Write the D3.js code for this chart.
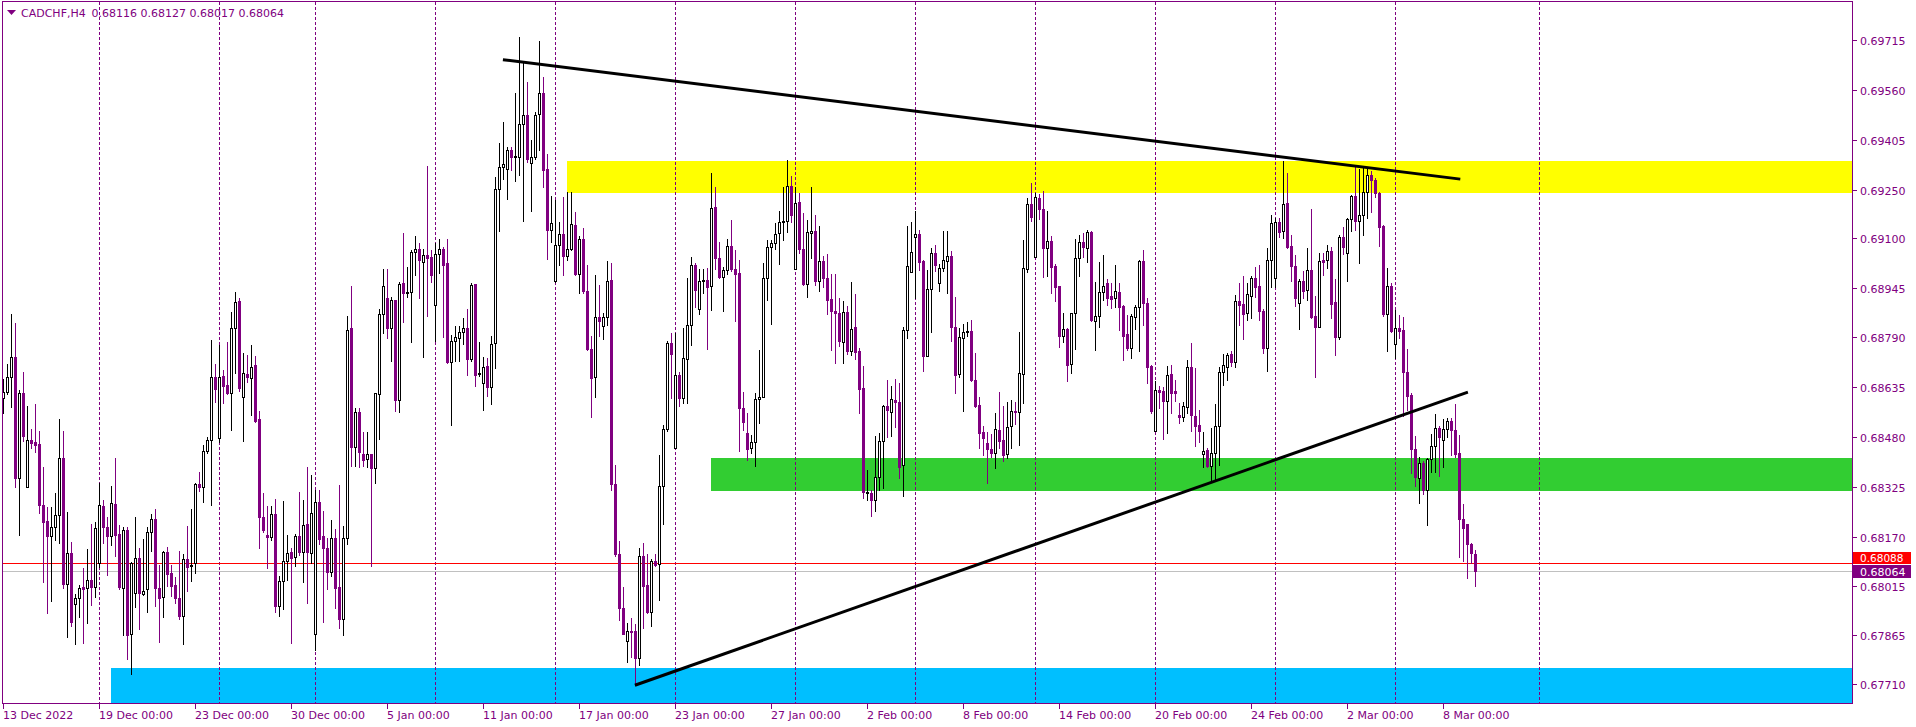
<!DOCTYPE html>
<html><head><meta charset="utf-8">
<script src="https://cdn.jsdelivr.net/npm/d3@7"></script>
<style>html,body{margin:0;padding:0;background:#fff;overflow:hidden}</style>
</head><body>
<svg id="c" width="1916" height="727" xmlns="http://www.w3.org/2000/svg"></svg>
<script>
// ---------------- DATA ----------------
const symbol = "CADCHF,H4";

const open = [
0.68601,0.68621,0.68668,0.68728,0.68353,0.68616,0.68325,0.68472,0.68463,0.68458,0.68268,0.68218,
0.68173,0.68199,0.68236,0.68414,0.68021,0.68118,0.67960,0.67978,0.68012,0.68009,0.68035,0.68012,
0.68089,0.68265,0.68199,0.68173,0.68271,0.68178,0.68009,0.68191,0.67866,0.67993,0.68102,0.67991,
0.68006,0.68183,0.68224,0.68009,0.67983,0.68121,0.68056,0.68019,0.67978,0.67924,0.68099,0.68077,
0.68089,0.68333,0.68323,0.68438,0.68472,0.68666,0.68476,0.68670,0.68641,0.68618,0.68818,0.68904,
0.68606,0.68675,0.68663,0.68703,0.68535,0.68231,0.68175,0.68169,0.68241,0.67955,0.68032,0.68095,
0.68123,0.68107,0.68172,0.68123,0.68210,0.68120,0.67866,0.68278,0.68172,0.68135,0.68061,0.68166,
0.68013,0.67912,0.68166,0.68819,0.68448,0.68558,0.68427,0.68411,0.68427,0.68384,0.68614,0.68862,
0.68914,0.68819,0.68906,0.68595,0.68959,0.68928,0.68933,0.69057,0.69067,0.69026,0.69048,0.69040,
0.68890,0.69051,0.69067,0.69021,0.68713,0.68778,0.68788,0.68806,0.68819,0.68723,0.68955,0.68676,
0.68648,0.68701,0.68635,0.68772,0.69251,0.69320,0.69316,0.69373,0.69352,0.69352,0.69456,0.69484,
0.69332,0.69353,0.69487,0.69552,0.69314,0.69126,0.68965,0.69078,0.69111,0.69044,0.69067,0.69139,
0.68989,0.69096,0.68936,0.68753,0.68668,0.68855,0.68825,0.68854,0.68969,0.68333,0.68115,0.67949,
0.67845,0.67877,0.67875,0.67793,0.68108,0.68019,0.67934,0.68095,0.68084,0.68327,0.68504,0.68772,
0.68445,0.68674,0.68600,0.68724,0.68829,0.69015,0.68880,0.68965,0.68969,0.68949,0.69196,0.69038,
0.68978,0.68999,0.69076,0.69002,0.68990,0.68570,0.68492,0.68445,0.68466,0.68598,0.68606,0.68974,
0.69073,0.69085,0.69114,0.69149,0.69154,0.69262,0.69002,0.69213,0.69066,0.68956,0.69114,0.69120,
0.68966,0.69028,0.68974,0.68910,0.68871,0.68867,0.68777,0.68868,0.68749,0.68822,0.68748,0.68633,
0.68305,0.68307,0.68284,0.68354,0.68469,0.68577,0.68559,0.68596,0.68590,0.68393,0.68813,0.68995,
0.69104,0.69111,0.69028,0.68731,0.68940,0.69052,0.68959,0.69005,0.69029,0.69044,0.68824,0.68675,
0.68788,0.68806,0.68810,0.68658,0.68580,0.68497,0.68460,0.68442,0.68431,0.68502,0.68471,0.68426,
0.68515,0.68562,0.68559,0.68676,0.69002,0.69206,0.69042,0.69223,0.69189,0.69070,0.69090,0.69013,
0.68950,0.68796,0.68815,0.68706,0.68865,0.69038,0.69086,0.69070,0.69117,0.68842,0.68858,0.68933,
0.68959,0.68919,0.68912,0.68931,0.68888,0.68801,0.68758,0.68853,0.68884,0.69028,0.68898,0.68701,
0.68500,0.68627,0.68623,0.68593,0.68675,0.68623,0.68549,0.68541,0.68575,0.68697,0.68546,0.68518,
0.68426,0.68440,0.68391,0.68429,0.68514,0.68682,0.68699,0.68739,0.68715,0.68904,0.68894,0.68865,
0.68919,0.68976,0.68950,0.68873,0.68756,0.69031,0.68974,0.69149,0.69120,0.69210,0.69075,0.69013,
0.68897,0.68966,0.68938,0.69000,0.68857,0.68824,0.69031,0.69031,0.69059,0.68900,0.68790,0.69104,
0.69052,0.69158,0.69231,0.69154,0.69170,0.69242,0.69296,0.69281,0.69241,0.69137,0.68863,0.68950,
0.68769,0.68819,0.68813,0.68681,0.68611,0.68442,0.68352,0.68398,0.68315,0.68411,0.68453,0.68507,
0.68471,0.68504,0.68530,0.68502,0.68430,0.68224,0.68208,0.68146,0.68116];

const high = [
0.68661,0.68707,0.68863,0.68836,0.68626,0.68682,0.68577,0.68505,0.68583,0.68499,0.68388,0.68261,
0.68261,0.68305,0.68535,0.68499,0.68246,0.68152,0.67991,0.68019,0.68071,0.68130,0.68209,0.68214,
0.68338,0.68284,0.68232,0.68328,0.68415,0.68206,0.68199,0.68199,0.68092,0.68230,0.68133,0.68162,
0.68199,0.68239,0.68255,0.68082,0.68126,0.68139,0.68082,0.68045,0.68126,0.68116,0.68203,0.68255,
0.68336,0.68371,0.68455,0.68481,0.68782,0.68707,0.68767,0.68689,0.68777,0.68868,0.68931,0.68912,
0.68741,0.68736,0.68766,0.68732,0.68561,0.68307,0.68266,0.68266,0.68288,0.68048,0.68281,0.68176,
0.68133,0.68179,0.68309,0.68284,0.68386,0.68363,0.68315,0.68315,0.68250,0.68164,0.68222,0.68195,
0.68332,0.68204,0.68858,0.68949,0.68570,0.68570,0.68496,0.68496,0.68427,0.68617,0.68878,0.69003,
0.69003,0.68916,0.68908,0.68962,0.69114,0.69009,0.69061,0.69107,0.69083,0.69067,0.69324,0.69061,
0.69083,0.69098,0.69073,0.69098,0.68797,0.68825,0.68825,0.68850,0.68878,0.68959,0.68958,0.68775,
0.68729,0.68725,0.68796,0.69290,0.69395,0.69460,0.69382,0.69384,0.69552,0.69727,0.69650,0.69585,
0.69404,0.69493,0.69712,0.69601,0.69360,0.69229,0.69218,0.69150,0.69227,0.69244,0.69244,0.69181,
0.69107,0.69130,0.69015,0.68796,0.68985,0.68953,0.68867,0.69028,0.69021,0.68392,0.68157,0.68012,
0.67901,0.67918,0.67898,0.68133,0.68150,0.68115,0.68101,0.68115,0.68425,0.68517,0.68779,0.68805,
0.68805,0.68681,0.68818,0.68976,0.69041,0.69021,0.69002,0.69002,0.69006,0.69303,0.69257,0.69087,
0.69008,0.69097,0.69155,0.69061,0.69031,0.68619,0.68554,0.68487,0.68616,0.68751,0.69021,0.69094,
0.69094,0.69146,0.69184,0.69260,0.69343,0.69293,0.69257,0.69239,0.69179,0.69156,0.69260,0.69170,
0.69137,0.69044,0.69050,0.68988,0.68988,0.68912,0.68905,0.68889,0.68963,0.68926,0.68758,0.68701,
0.68378,0.68315,0.68483,0.68494,0.68580,0.68658,0.68639,0.68660,0.68649,0.68822,0.69137,0.69151,
0.69184,0.69125,0.69031,0.69000,0.69068,0.69078,0.69019,0.69122,0.69122,0.69059,0.68915,0.68819,
0.68832,0.68839,0.68845,0.68743,0.68604,0.68515,0.68497,0.68489,0.68554,0.68619,0.68577,0.68588,
0.68595,0.68590,0.68806,0.69094,0.69223,0.69270,0.69239,0.69236,0.69246,0.69184,0.69106,0.69019,
0.68950,0.68865,0.68818,0.68867,0.69096,0.69109,0.69114,0.69125,0.69120,0.68962,0.69024,0.69047,
0.68972,0.68959,0.69016,0.68961,0.68891,0.68860,0.68863,0.68891,0.69031,0.69062,0.68912,0.68704,
0.68655,0.68639,0.68637,0.68701,0.68704,0.68656,0.68587,0.68588,0.68720,0.68774,0.68696,0.68564,
0.68497,0.68445,0.68507,0.68583,0.68699,0.68739,0.68741,0.68748,0.68922,0.68961,0.68982,0.68959,
0.68980,0.69008,0.69016,0.68878,0.69068,0.69172,0.69161,0.69161,0.69341,0.69303,0.69109,0.69047,
0.68971,0.68998,0.69068,0.69190,0.68920,0.69054,0.69054,0.69078,0.69073,0.68972,0.69109,0.69133,
0.69163,0.69234,0.69322,0.69314,0.69317,0.69322,0.69307,0.69286,0.69242,0.69140,0.69005,0.68961,
0.68876,0.68860,0.68855,0.68754,0.68616,0.68483,0.68417,0.68404,0.68414,0.68490,0.68551,0.68515,
0.68535,0.68539,0.68539,0.68583,0.68487,0.68272,0.68208,0.68149,0.68127];

const low = [
0.68556,0.68614,0.68575,0.68325,0.68175,0.68469,0.68323,0.68445,0.68434,0.68242,0.68030,0.67933,
0.67970,0.68159,0.68149,0.68009,0.67858,0.67890,0.67835,0.67921,0.67838,0.67900,0.67957,0.67983,
0.68076,0.68149,0.68050,0.68144,0.68108,0.68006,0.67864,0.67789,0.67741,0.67952,0.67883,0.67988,
0.67936,0.68126,0.67955,0.67843,0.67921,0.68016,0.67985,0.67962,0.67914,0.67835,0.68002,0.68033,
0.68056,0.68313,0.68279,0.68429,0.68268,0.68590,0.68463,0.68585,0.68614,0.68502,0.68680,0.68624,
0.68469,0.68652,0.68549,0.68527,0.68135,0.68185,0.68073,0.68160,0.67936,0.67924,0.67945,0.68036,
0.67840,0.68079,0.68113,0.68030,0.67964,0.68089,0.67818,0.68148,0.67905,0.68008,0.68048,0.67949,
0.67884,0.67862,0.68148,0.68390,0.68390,0.68386,0.68390,0.68386,0.68077,0.68337,0.68473,0.68804,
0.68788,0.68717,0.68560,0.68558,0.68837,0.68916,0.68775,0.68984,0.68912,0.68729,0.68856,0.68962,
0.68779,0.68990,0.68791,0.68709,0.68518,0.68717,0.68717,0.68769,0.68673,0.68717,0.68638,0.68670,
0.68564,0.68607,0.68582,0.68694,0.69120,0.69283,0.69221,0.69310,0.69277,0.69297,0.69152,0.69336,
0.69185,0.69346,0.69375,0.69257,0.69035,0.69087,0.68963,0.69015,0.68986,0.69032,0.69061,0.68986,
0.68930,0.68930,0.68750,0.68543,0.68606,0.68796,0.68786,0.68828,0.68314,0.68111,0.67910,0.67866,
0.67779,0.67796,0.67708,0.67770,0.67884,0.67931,0.67890,0.68078,0.67973,0.68209,0.68500,0.68602,
0.68445,0.68576,0.68586,0.68586,0.68766,0.68884,0.68862,0.68930,0.68753,0.68877,0.69002,0.68976,
0.68871,0.68989,0.68998,0.68841,0.68435,0.68502,0.68409,0.68429,0.68390,0.68523,0.68604,0.68907,
0.68831,0.69065,0.69019,0.69094,0.69117,0.69151,0.69002,0.69054,0.68954,0.68917,0.69037,0.68954,
0.68936,0.68948,0.68862,0.68751,0.68710,0.68762,0.68710,0.68739,0.68736,0.68722,0.68554,0.68289,
0.68284,0.68234,0.68250,0.68315,0.68320,0.68479,0.68484,0.68512,0.68352,0.68295,0.68788,0.68995,
0.68912,0.69000,0.68687,0.68731,0.68808,0.68998,0.68936,0.68998,0.68930,0.68780,0.68618,0.68666,
0.68562,0.68793,0.68653,0.68575,0.68445,0.68424,0.68336,0.68417,0.68385,0.68445,0.68406,0.68414,
0.68445,0.68521,0.68455,0.68585,0.68995,0.69154,0.69042,0.69158,0.68979,0.68981,0.68930,0.68905,
0.68761,0.68777,0.68655,0.68678,0.68753,0.68981,0.69040,0.69026,0.68842,0.68751,0.68822,0.68907,
0.68891,0.68881,0.68884,0.68813,0.68720,0.68751,0.68725,0.68815,0.68749,0.68829,0.68647,0.68554,
0.68500,0.68569,0.68473,0.68494,0.68556,0.68593,0.68523,0.68531,0.68556,0.68500,0.68453,0.68463,
0.68388,0.68388,0.68341,0.68346,0.68393,0.68642,0.68656,0.68701,0.68697,0.68829,0.68785,0.68843,
0.68850,0.68915,0.68843,0.68743,0.68687,0.68948,0.68948,0.69102,0.69101,0.69068,0.68967,0.68889,
0.68817,0.68912,0.68907,0.68850,0.68668,0.68822,0.68985,0.69005,0.68852,0.68734,0.68784,0.69050,
0.68967,0.69123,0.69125,0.69023,0.69109,0.69161,0.69182,0.69227,0.69075,0.68857,0.68749,0.68808,
0.68725,0.68788,0.68544,0.68564,0.68367,0.68326,0.68274,0.68302,0.68206,0.68372,0.68372,0.68360,
0.68386,0.68481,0.68424,0.68419,0.68106,0.68095,0.68040,0.68087,0.68017];

const close = [
0.68621,0.68666,0.68728,0.68353,0.68616,0.68484,0.68472,0.68462,0.68456,0.68268,0.68216,0.68173,
0.68199,0.68236,0.68414,0.68021,0.68118,0.67905,0.67978,0.68009,0.68006,0.68035,0.68012,0.68196,
0.68267,0.68199,0.68172,0.68274,0.68175,0.68014,0.68191,0.67864,0.68087,0.68102,0.67993,0.67999,
0.68183,0.68224,0.68009,0.67980,0.68121,0.68054,0.68017,0.67978,0.67924,0.68099,0.68076,0.68080,
0.68333,0.68325,0.68438,0.68472,0.68666,0.68630,0.68668,0.68639,0.68618,0.68818,0.68899,0.68634,
0.68678,0.68666,0.68698,0.68530,0.68231,0.68191,0.68169,0.68241,0.67955,0.68032,0.68095,0.68120,
0.68102,0.68172,0.68123,0.68207,0.68123,0.68244,0.68278,0.68163,0.68135,0.68061,0.68166,0.68011,
0.67912,0.68166,0.68812,0.68448,0.68558,0.68433,0.68409,0.68427,0.68384,0.68617,0.68862,0.68949,
0.68819,0.68906,0.68595,0.68955,0.68928,0.68933,0.69057,0.69067,0.69030,0.69048,0.69036,0.68986,
0.69051,0.69067,0.69017,0.68713,0.68778,0.68790,0.68806,0.68819,0.68723,0.68953,0.68673,0.68678,
0.68698,0.68636,0.68769,0.69251,0.69320,0.69329,0.69373,0.69352,0.69356,0.69456,0.69484,0.69345,
0.69353,0.69484,0.69552,0.69312,0.69126,0.69145,0.69078,0.69111,0.69044,0.69067,0.69142,0.68989,
0.69096,0.68936,0.68753,0.68665,0.68855,0.68841,0.68854,0.68966,0.68333,0.68115,0.67949,0.67868,
0.67877,0.67873,0.67793,0.68108,0.68016,0.67934,0.68094,0.68082,0.68327,0.68504,0.68772,0.68740,
0.68674,0.68600,0.68727,0.68829,0.69015,0.68939,0.68965,0.68969,0.68947,0.69192,0.69038,0.68978,
0.68999,0.69076,0.69002,0.68989,0.68570,0.68528,0.68442,0.68466,0.68598,0.68606,0.68974,0.69073,
0.69085,0.69111,0.69149,0.69153,0.69262,0.69172,0.69210,0.69065,0.68957,0.69118,0.69120,0.68967,
0.69028,0.68974,0.68907,0.68871,0.68865,0.68779,0.68868,0.68749,0.68817,0.68746,0.68631,0.68310,
0.68309,0.68284,0.68354,0.68468,0.68577,0.68564,0.68598,0.68590,0.68388,0.68813,0.69013,0.69055,
0.69111,0.69026,0.68731,0.68940,0.69052,0.69016,0.69005,0.69031,0.69044,0.68824,0.68673,0.68791,
0.68806,0.68810,0.68656,0.68578,0.68494,0.68476,0.68442,0.68431,0.68504,0.68469,0.68424,0.68510,
0.68561,0.68559,0.68678,0.69005,0.69206,0.69166,0.69226,0.69189,0.69070,0.69090,0.69010,0.68946,
0.68796,0.68815,0.68704,0.68867,0.69036,0.69086,0.69071,0.69117,0.68844,0.68858,0.68931,0.68951,
0.68912,0.68910,0.68934,0.68886,0.68796,0.68758,0.68857,0.68886,0.69028,0.68896,0.68699,0.68562,
0.68627,0.68621,0.68593,0.68673,0.68618,0.68616,0.68541,0.68577,0.68697,0.68547,0.68515,0.68500,
0.68437,0.68390,0.68429,0.68514,0.68684,0.68704,0.68735,0.68715,0.68904,0.68891,0.68863,0.68925,
0.68976,0.68948,0.68871,0.68758,0.69031,0.69146,0.69149,0.69118,0.69206,0.69073,0.69011,0.68914,
0.68966,0.68935,0.69000,0.68855,0.68824,0.69028,0.69026,0.69059,0.68894,0.68790,0.69102,0.69073,
0.69159,0.69231,0.69154,0.69172,0.69242,0.69296,0.69279,0.69239,0.69135,0.68863,0.68950,0.68811,
0.68819,0.68811,0.68681,0.68609,0.68442,0.68355,0.68398,0.68315,0.68411,0.68452,0.68507,0.68479,
0.68504,0.68530,0.68502,0.68427,0.68224,0.68196,0.68146,0.68118,0.68064];

// time axis (bar index of each label) and weekly separators (bar index)
const dateTickIndex = [0,24,48,72,96,120,144,168,192,216,240,264,288,312,336,360];
const dateTickLabel = ["13 Dec 2022","19 Dec 00:00","23 Dec 00:00","30 Dec 00:00","5 Jan 00:00",
  "11 Jan 00:00","17 Jan 00:00","23 Jan 00:00","27 Jan 00:00","2 Feb 00:00","8 Feb 00:00",
  "14 Feb 00:00","20 Feb 00:00","24 Feb 00:00","2 Mar 00:00","8 Mar 00:00"];
const weekSeparatorIndex = [24,54,78,108,138,168,198,228,258,288,318,348,384];

// price axis
const priceTicks = [0.69715,0.69560,0.69405,0.69250,0.69100,0.68945,0.68790,0.68635,0.68480,
  0.68325,0.68170,0.68015,0.67865,0.67710];

// zones (start bar index, low price, high price)
const zoneStart = [140.9, 176.9, 26.9];
const zoneLow   = [0.69241, 0.68312, 0.67600];
const zoneHigh  = [0.69339, 0.68416, 0.67761];

// trend lines [barIndex, price]
const trendUpper = [[124.85, 0.69655], [364.2, 0.69283]];
const trendLower = [[157.85, 0.67707], [366.1, 0.68620]];

const askPrice = 0.68088;
const bidPrice = 0.68064;

// ---------------- DRAW ----------------
const purple = "#800080";
const zoneColor = ["#FFFF00", "#32CD32", "#00BFFF"];
const FONT = "'DejaVu Sans', Verdana, sans-serif";
const L = 2, R = 1852, T = 1, B = 703;

const svg = d3.select("#c");
svg.append("rect").attr("width",1916).attr("height",727).attr("fill","#fff");

const x = d3.scaleLinear().domain([0, 368]).range([3.5, 3.5 + 4 * 368]);
const y = d3.scaleLinear().domain([0.67710, 0.69715]).range([684.3, 40.4]);
const py = v => Math.round(y(v));

svg.append("defs").append("clipPath").attr("id","clip").append("rect")
  .attr("x", L + 1).attr("y", T + 1).attr("width", R - L - 1).attr("height", B - T - 1);
const g = svg.append("g").attr("clip-path","url(#clip)").attr("shape-rendering","crispEdges");

// zones
zoneStart.forEach((s, k) => {
  const x0 = Math.round(x(s));
  g.append("rect").attr("x", x0).attr("y", py(zoneHigh[k]))
    .attr("width", R - x0).attr("height", py(zoneLow[k]) - py(zoneHigh[k]))
    .attr("fill", zoneColor[k]);
});

// weekly separators
g.selectAll("line.sep").data(weekSeparatorIndex).join("line").attr("class","sep")
  .attr("x1", d => Math.floor(x(d)) + 0.5).attr("x2", d => Math.floor(x(d)) + 0.5)
  .attr("y1", T + 1).attr("y2", B)
  .attr("stroke", purple).attr("stroke-width", 1).attr("stroke-dasharray", "3,2");

// bid / ask lines
g.append("line").attr("x1", L).attr("x2", R).attr("y1", py(bidPrice) + 0.5).attr("y2", py(bidPrice) + 0.5)
  .attr("stroke", "#C0C0C0").attr("stroke-width", 1);
g.append("line").attr("x1", L).attr("x2", R).attr("y1", py(askPrice) + 0.5).attr("y2", py(askPrice) + 0.5)
  .attr("stroke", "#FF0000").attr("stroke-width", 1);

// candles
const candles = open.map((o, i) => ({ i, o, h: high[i], l: low[i], c: close[i] }));
const cg = g.append("g");
candles.forEach(d => {
  const cx = Math.floor(x(d.i));
  const bull = d.c >= d.o;
  const col = bull ? "#000000" : purple;
  const yh = py(d.h), yl = py(d.l);
  cg.append("rect").attr("x", cx).attr("y", yh).attr("width", 1).attr("height", yl - yh + 1).attr("fill", col);
  const top = py(Math.max(d.o, d.c)), bot = py(Math.min(d.o, d.c));
  if (bull) {
    cg.append("rect").attr("x", cx - 1).attr("y", top).attr("width", 3).attr("height", bot - top + 1).attr("fill", "#000");
    if (bot - top >= 2)
      cg.append("rect").attr("x", cx).attr("y", top + 1).attr("width", 1).attr("height", bot - top - 1).attr("fill", "#fff");
  } else {
    cg.append("rect").attr("x", cx - 1).attr("y", top).attr("width", 3).attr("height", Math.max(bot - top + 1, 1)).attr("fill", purple);
  }
});

// trend lines
const line = d3.line().x(d => x(d[0])).y(d => y(d[1]));
[trendUpper, trendLower].forEach(t => {
  svg.append("path").attr("d", line(t)).attr("fill","none").attr("stroke","#000").attr("stroke-width",3)
    .attr("clip-path","url(#clip)");
});

// frame
svg.append("rect").attr("x", L + 0.5).attr("y", T + 0.5).attr("width", R - L).attr("height", B - T)
  .attr("fill","none").attr("stroke", purple).attr("stroke-width", 1).attr("shape-rendering","crispEdges");

// price axis
const pa = svg.append("g").attr("shape-rendering","crispEdges");
priceTicks.forEach(p => {
  const yy = py(p) + 0.5;
  pa.append("line").attr("x1", R + 1).attr("x2", R + 5).attr("y1", yy).attr("y2", yy).attr("stroke", purple);
  pa.append("text").attr("x", R + 8).attr("y", py(p) + 4.5).attr("fill", purple)
    .attr("font-family", FONT).attr("font-size", "11px").text(p.toFixed(5));
});

// ask / bid price labels (ask box sits just above the bid box)
const yBid = py(bidPrice);
svg.append("rect").attr("x", R + 1).attr("y", yBid - 19).attr("width", 58).attr("height", 12).attr("fill", "#FF0000");
svg.append("text").attr("x", R + 8).attr("y", yBid - 9).attr("fill", "#fff")
  .attr("font-family", FONT).attr("font-size", "10.5px").text(askPrice.toFixed(5));
svg.append("rect").attr("x", R + 1).attr("y", yBid - 6).attr("width", 58).attr("height", 13).attr("fill", purple);
svg.append("text").attr("x", R + 8).attr("y", yBid + 4.5).attr("fill", "#fff")
  .attr("font-family", FONT).attr("font-size", "11px").text(bidPrice.toFixed(5));

// time axis
const ta = svg.append("g").attr("shape-rendering","crispEdges");
dateTickIndex.forEach((idx, k) => {
  const xx = Math.floor(x(idx)) + 0.5;
  ta.append("line").attr("x1", xx).attr("x2", xx).attr("y1", B + 1).attr("y2", B + 6).attr("stroke", purple);
  ta.append("text").attr("x", xx - 0.5).attr("y", 719).attr("fill", purple)
    .attr("font-family", FONT).attr("font-size", "11px").text(dateTickLabel[k]);
});

// title
svg.append("path").attr("d", "M7,10 L16,10 L11.5,15 Z").attr("fill", purple);
const last = open.length - 1;
svg.append("text").attr("x", 21).attr("y", 17).attr("fill", purple)
  .attr("font-family", FONT).attr("font-size", "11px").text(symbol);
svg.append("text").attr("x", 91.5).attr("y", 17).attr("fill", purple)
  .attr("font-family", FONT).attr("font-size", "11px")
  .text([open[last], high[last], low[last], close[last]].map(v => v.toFixed(5)).join(" "));
</script>
</body></html>
